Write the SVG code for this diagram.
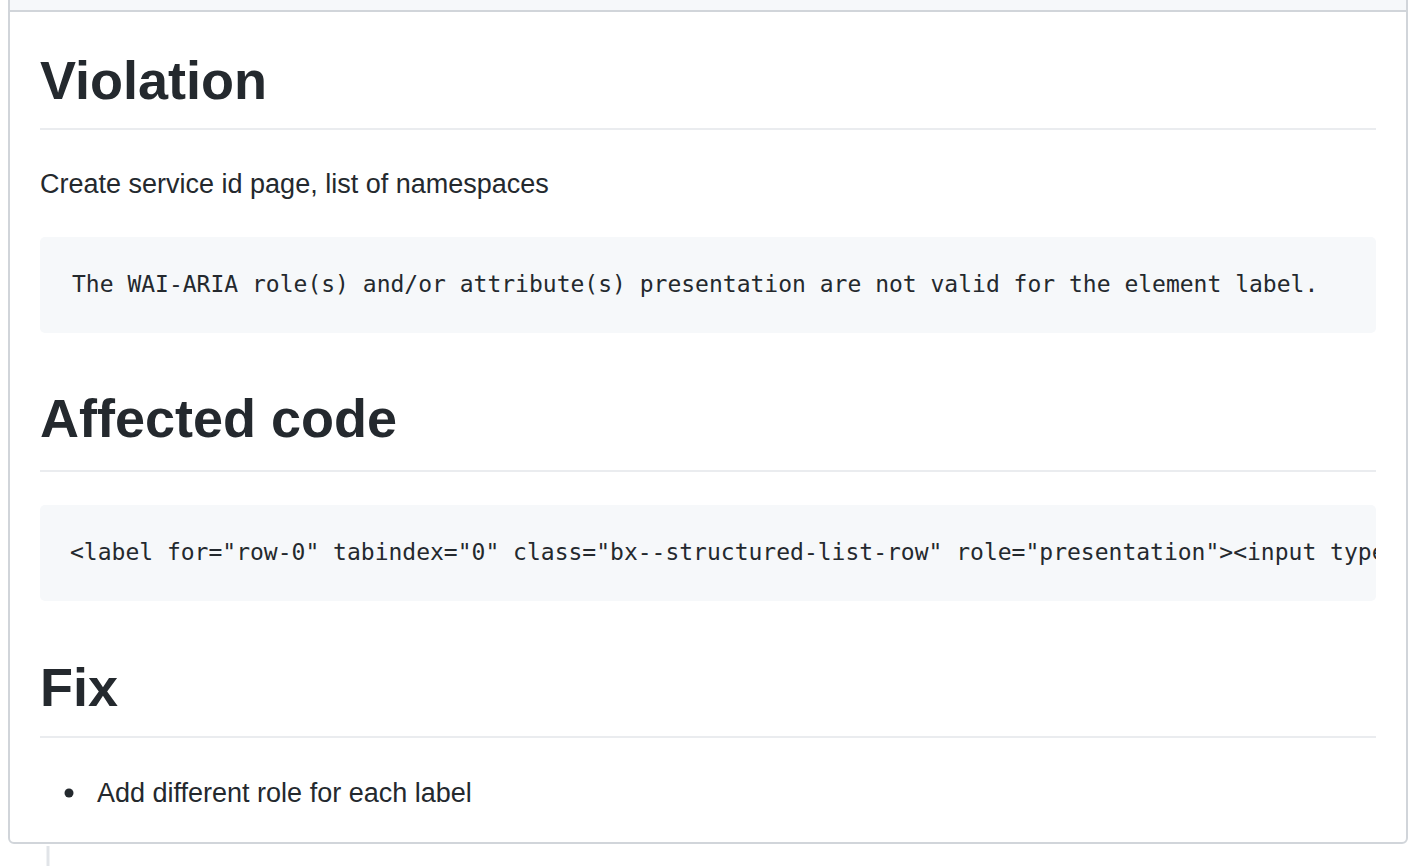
<svg xmlns="http://www.w3.org/2000/svg" width="1428" height="866" viewBox="0 0 1428 866">
<style>
.h{font-family:"Liberation Sans",Arial,sans-serif;font-weight:bold;font-size:54px;fill:#24292e}
.b{font-family:"Liberation Sans",Arial,sans-serif;font-size:27px;fill:#24292e}
.m{font-family:"DejaVu Sans Mono",monospace;font-size:23px;fill:#24292e}
.rule{stroke:#eaecef;stroke-width:2}
.code{fill:#f6f8fa}
</style>
<defs><clipPath id="c2"><rect x="40" y="505" width="1336" height="96"/></clipPath></defs>
<rect width="1428" height="866" fill="#fff"/>
<rect x="9" y="-10" width="1398" height="853" rx="5" fill="#fff" stroke="#d1d5da" stroke-width="2"/>
<rect x="10" y="0" width="1396" height="10" fill="#f6f8fa"/>
<line x1="10" y1="11" x2="1406" y2="11" stroke="#d1d5da" stroke-width="2"/>
<line x1="48" y1="846" x2="48" y2="866" stroke="#e1e4e8" stroke-width="3"/>
<text class="h" x="40" y="99">Violation</text>
<line class="rule" x1="40" y1="129" x2="1376" y2="129"/>
<text class="b" x="40" y="193">Create service id page, list of namespaces</text>
<rect class="code" x="40" y="237" width="1336" height="96" rx="5"/>
<text class="m" x="72" y="292">The WAI-ARIA role(s) and/or attribute(s) presentation are not valid for the element label.</text>
<text class="h" x="40" y="437">Affected code</text>
<line class="rule" x1="40" y1="471" x2="1376" y2="471"/>
<rect class="code" x="40" y="505" width="1336" height="96" rx="5"/>
<text class="m" x="70" y="560" clip-path="url(#c2)">&lt;label for="row-0" tabindex="0" class="bx--structured-list-row" role="presentation"&gt;&lt;input type</text>
<text class="h" x="40" y="706">Fix</text>
<line class="rule" x1="40" y1="737" x2="1376" y2="737"/>
<circle cx="69" cy="793" r="4.5" fill="#24292e"/>
<text class="b" x="97" y="802">Add different role for each label</text>
</svg>
